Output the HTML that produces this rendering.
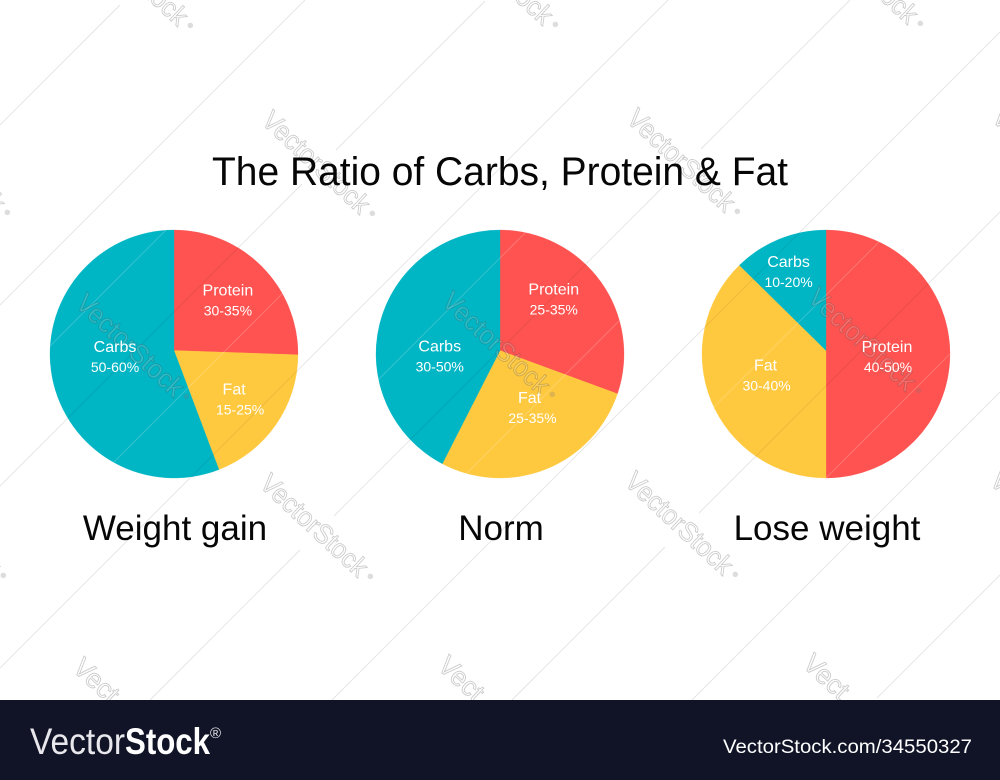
<!DOCTYPE html>
<html lang="en">
<head>
<meta charset="utf-8">
<title>The Ratio of Carbs, Protein &amp; Fat</title>
<style>
html,body{margin:0;padding:0;background:#fff;width:1000px;height:780px;overflow:hidden;}
svg{display:block;font-family:"Liberation Sans",sans-serif;}
</style>
</head>
<body>
<svg id="chart" xmlns="http://www.w3.org/2000/svg" width="1000" height="780" viewBox="0 0 1000 780">
  <rect x="0" y="0" width="1000" height="780" fill="#ffffff"/>
  <g id="bg-lines"></g>
  <g id="pies"></g>
  <g id="marks"></g>
  <g id="labels"></g>
  <text x="212" y="185" font-size="40" fill="#060606" textLength="576" lengthAdjust="spacingAndGlyphs">The Ratio of Carbs, Protein &amp; Fat</text>
  <rect x="0" y="700" width="1000" height="80" fill="#111427"/>
  <text x="30" y="754" font-size="37" fill="#e8e8ec" textLength="95" lengthAdjust="spacingAndGlyphs">Vector</text>
  <text x="125" y="754" font-size="37" font-weight="bold" fill="#ffffff" textLength="85" lengthAdjust="spacingAndGlyphs">Stock</text>
  <text x="210" y="738" font-size="15" fill="#e8e8ec">®</text>
  <text x="723" y="753" font-size="19" fill="#ffffff" textLength="249" lengthAdjust="spacingAndGlyphs">VectorStock.com/34550327</text>
</svg>
<script>
const categories = ['Protein', 'Fat', 'Carbs'];
const chartTitles = ['Weight gain', 'Norm', 'Lose weight'];
const weightGainValues = [25.1, 19, 55.9];
const normValues = [30.2, 27.5, 42.3];
const loseWeightValues = [50, 37.7, 12.3];
const weightGainRanges = ['30-35%', '15-25%', '50-60%'];
const normRanges = ['25-35%', '25-35%', '30-50%'];
const loseWeightRanges = ['40-50%', '30-40%', '10-20%'];

const NS = 'http://www.w3.org/2000/svg';
const sliceColors = {Protein: '#fe5350', Fat: '#ffc93f', Carbs: '#00b5c4'};
const pieRadius = 124;
const pieY = 354;
const vertexY = 350.5;

function make(tag, attrs, parent) {
  const el = document.createElementNS(NS, tag);
  for (const key in attrs) el.setAttribute(key, attrs[key]);
  parent.appendChild(el);
  return el;
}
function slug(s) { return s.toLowerCase().replace(/\s+/g, '-'); }
function angleScale(value, total) { return value / total * 360; }
function polar(cx, cy, r, deg) {
  const a = deg * Math.PI / 180;
  return [cx + r * Math.sin(a), cy - r * Math.cos(a)];
}

/* Background diagonal lines, broken where a watermark crosses them */
const lineGroup = document.getElementById('bg-lines');
const lineOffsets = [125, 305, 486, 668, 850, 1032, 1212, 1392, 1575];
const sheenOffsets = [396, 576, 758, 940, 1121, 1304];
const wmCenters = [
  [137,-23],[502,-24],[867,-25],
  [-46,164],[319,165],[684,163],[1049,162],
  [133,348],[499,346],[865,342],
  [-50,527],[317,528],[682,526],[1047,525],
  [130,712],[495,710],[860,708]
];
lineOffsets.forEach(function (c) {
  const gaps = wmCenters.filter(function (m) { return Math.abs(m[0] + m[1] - c) < 26; })
    .map(function (m) { return m[0]; }).sort(function (a, b) { return a - b; });
  let start = Math.max(0, c - 700);
  const end = Math.min(1000, c);
  gaps.concat([null]).forEach(function (g) {
    const stop = g === null ? end : Math.min(end, g - 17);
    if (stop > start) {
      const seg = make('line', {x1: start, y1: c - start, x2: stop, y2: c - stop, stroke: '#8f8f8f', 'stroke-opacity': '0.24', 'stroke-width': '0.9'}, lineGroup);
      
      
    }
    if (g !== null) start = Math.max(start, g + 17);
  });
});

/* Pies */
const pieGroup = document.getElementById('pies');
const labelGroup = document.getElementById('labels');

function chordLine(parent, cx, c, stroke, opacity, name) {
  const dist = Math.abs(cx + pieY - c) / Math.SQRT2;
  if (dist >= pieRadius) return;
  const half = Math.sqrt(pieRadius * pieRadius - dist * dist) / Math.SQRT2;
  const midX = (cx - pieY + c) / 2;
  const line = make('line', {x1: midX - half, y1: c - midX + half, x2: midX + half, y2: c - midX - half, stroke: stroke, 'stroke-opacity': opacity, 'stroke-width': '1'}, parent);
  
  
}

function drawPie(index, cx, values, ranges, layout) {
  const total = values.reduce(function (s, v) { return s + v; }, 0);
  const g = make('g', {}, pieGroup);
  
  
  let start = 0;
  values.forEach(function (v, i) {
    const sweep = angleScale(v, total);
    const end = start + sweep;
    const p0 = polar(cx, pieY, pieRadius, start);
    const p1 = polar(cx, pieY, pieRadius, end);
    const large = sweep > 180 ? 1 : 0;
    const path = make('path', {
      d: 'M' + cx + ' ' + vertexY + 'L' + p0[0] + ' ' + p0[1] + 'A' + pieRadius + ' ' + pieRadius + ' 0 ' + large + ' 1 ' + p1[0] + ' ' + p1[1] + 'Z',
      fill: sliceColors[categories[i]],
      stroke: sliceColors[categories[i]],
      'stroke-width': '0.3'
    }, g);
    
    

    const lay = layout[i];
    const anchor = polar(cx, pieY, lay.r, start + sweep / 2);
    const x = anchor[0] + lay.dx;
    const y = anchor[1] + lay.dy;
    const nameText = make('text', {x: x, y: y, 'font-size': 16, fill: '#ffffff', 'text-anchor': 'middle'}, labelGroup);
    nameText.textContent = categories[i];
    
    
    const valueText = make('text', {x: x + lay.vdx, y: y + 20, 'font-size': 14, fill: '#ffffff', 'text-anchor': 'middle'}, labelGroup);
    valueText.textContent = ranges[i];
    
    
    start = end;
  });

  sheenOffsets.forEach(function (c) {
    chordLine(g, cx, c, '#ffffff', '0.2', 'pie-sheen-line');
  });
  lineOffsets.forEach(function (c) {
    chordLine(g, cx, c, '#000000', '0.07', 'pie-shadow-line');
  });

  const title = make('text', {x: cx + 1, y: 540, 'font-size': 35, fill: '#060606', 'text-anchor': 'middle'}, labelGroup);
  title.textContent = chartTitles[index];
  
  
}

drawPie(0, 174, weightGainValues, weightGainRanges, [
  {r: 76, dx: 0, dy: -5, vdx: 0},
  {r: 73, dx: 0, dy: -1, vdx: 6},
  {r: 60, dx: 0, dy: -13, vdx: 0}
]);
drawPie(1, 500, normValues, normRanges, [
  {r: 76, dx: -8, dy: -15, vdx: 0},
  {r: 58, dx: 8, dy: -5, vdx: 3},
  {r: 60, dx: -2, dy: 12, vdx: 0}
]);
drawPie(2, 826, loseWeightValues, loseWeightRanges, [
  {r: 61, dx: 0, dy: -2, vdx: 1},
  {r: 62, dx: -3, dy: -7, vdx: 1},
  {r: 94, dx: -2, dy: 0, vdx: 0}
]);

/* VectorStock watermarks; those cut off by the footer or page edge only carry the visible part */
const markGroup = document.getElementById('marks');
wmCenters.forEach(function (m) {
  const cutOff = m[0] > 1000 || m[1] > 700;
  const g = make('g', {transform: 'translate(' + m[0] + ' ' + m[1] + ') rotate(43)'}, markGroup);
  
  
  const t = make('text', {x: -72, y: 9, 'font-size': 27, fill: 'rgba(255,255,255,0.16)', stroke: 'rgba(70,70,70,0.28)', 'stroke-width': '0.9', textLength: cutOff ? 52 : 136, lengthAdjust: 'spacingAndGlyphs'}, g);
  t.textContent = cutOff ? 'Vect' : 'VectorStock';
  if (!cutOff) {
    const r = make('circle', {cx: 72, cy: -1, r: 2.8, fill: 'rgba(120,120,120,0.25)'}, g);
    
    
  }
});
</script>
</body>
</html>
